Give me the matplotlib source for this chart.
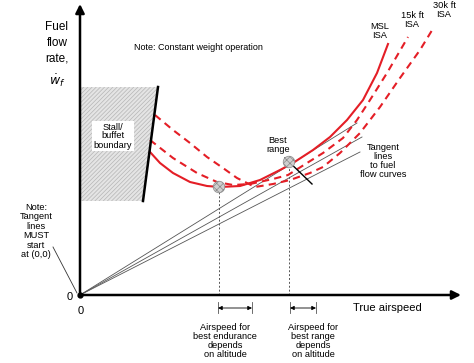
import matplotlib
matplotlib.use("Agg")
import matplotlib.pyplot as plt

# fuel flow curves (airspeed, fuel flow), schematic units
msl_x = [70, 80, 93, 110, 127, 140, 160, 180, 200, 213, 233, 250, 267, 283, 297, 308]
msl_y = [143, 132, 122, 113, 109, 108, 109, 115, 125, 132, 145, 158, 175, 195, 222, 251]

ft15_x = [70, 93, 117, 137, 153, 170, 193, 208, 227, 243, 263, 277, 290, 307, 328]
ft15_y = [155, 137, 122, 113, 110, 111, 116, 120, 132, 142, 157, 175, 195, 222, 258]

ft30_x = [75, 93, 110, 127, 143, 157, 175, 193, 210, 230, 243, 260, 280, 300, 320, 340, 354]
ft30_y = [180, 165, 152, 138, 127, 117, 108, 111, 115, 122, 128, 142, 162, 188, 217, 245, 268]

# tangent lines from origin: end points
tangent_end_x = [277, 282, 280]
tangent_end_y = [172, 158, 143]

v_endurance = 139
v_range = 209
best_points_x = [139, 209]
best_points_y = [108, 133]

stall_line_x = [78, 63]
stall_line_y = [208, 94]

RED = "#e41e26"
plt.rcParams["font.family"] = ["Liberation Sans", "DejaVu Sans"]
plt.rcParams["hatch.linewidth"] = 0.5

fig = plt.figure(figsize=(4.74, 3.63), dpi=100)
ax = fig.add_axes([0, 0, 1, 1])
ax.set_xlim(-80, 394)
ax.set_ylim(-68, 295)
ax.axis("off")

# stall/buffet hatched zone
ax.fill([1, stall_line_x[0], stall_line_x[1], 1], [208, 208, 94, 94],
        facecolor="#e4e4e4", edgecolor="#b5b5b5", hatch="////////", lw=0, zorder=1)
ax.plot(stall_line_x, stall_line_y, color="k", lw=1.8, zorder=4)
ax.text(33, 159, "Stall/\nbuffet\nboundary", ha="center", va="center", fontsize=6.7,
        linespacing=1.0, bbox=dict(boxstyle="square,pad=0.15", fc="white", ec="none"), zorder=5)

# tangent lines
for ex, ey in zip(tangent_end_x, tangent_end_y):
    ax.plot([0, ex], [0, ey], color="#555555", lw=0.6, zorder=2)

# fuel flow curves
ax.plot(msl_x, msl_y, color=RED, lw=1.5, zorder=3)
ax.plot(ft15_x, ft15_y, color=RED, lw=1.5, dashes=(3.5, 2.5), zorder=3)
ax.plot(ft30_x, ft30_y, color=RED, lw=1.5, dashes=(3.5, 2.5), zorder=3)

# best range line
ax.plot([205, 232], [137, 111], color="k", lw=1.0, zorder=4)

# dotted verticals
for v, top in [(v_endurance, best_points_y[0]), (v_range, best_points_y[1])]:
    ax.plot([v, v], [0, top], color="#555555", lw=0.7, dashes=(2, 2), zorder=2)

ax.scatter(best_points_x, best_points_y, s=70, facecolor="#cfcfcf", edgecolor="#8a8a8a",
           hatch="xxxxx", lw=0.5, zorder=5)

# axes with arrows
arrow = dict(arrowstyle="-|>", lw=1.8, color="k", mutation_scale=13, shrinkA=0, shrinkB=0)
ax.annotate("", xy=(0, 291), xytext=(0, 0), arrowprops=arrow, zorder=6)
ax.annotate("", xy=(381, 0), xytext=(0, 0), arrowprops=arrow, zorder=6)
ax.plot([0], [0], "o", color="k", ms=3.5, zorder=7)

# range brackets below the axis
for a, b in [(138, 172), (210, 236)]:
    ax.annotate("", xy=(b, -13), xytext=(a, -13),
                arrowprops=dict(arrowstyle="<|-|>", lw=0.6, color="k",
                                mutation_scale=6, shrinkA=0, shrinkB=0))
    for v in (a, b):
        ax.plot([v, v], [-7, -18], color="#555555", lw=0.6)

fs = 6.7
ax.text(145, -46, "Airspeed for\nbest endurance\ndepends\non altitude", ha="center",
        va="center", fontsize=fs, linespacing=1.0)
ax.text(233, -46, "Airspeed for\nbest range\ndepends\non altitude", ha="center",
        va="center", fontsize=fs, linespacing=1.0)
ax.text(273, -13, "True airspeed", ha="left", va="center", fontsize=8)
ax.text(-10, -2, "0", ha="center", va="center", fontsize=8)
ax.text(1, -16, "0", ha="center", va="center", fontsize=8)

ax.text(-44, 64, "Note:\nTangent\nlines\nMUST\nstart\nat (0,0)", ha="center", va="center",
        fontsize=fs, linespacing=1.05)
ax.plot([-27, -3], [48, 2], color="#333333", lw=0.6)

ax.text(-23, 252, "Fuel\nflow\nrate,", ha="center", va="center", fontsize=8.5, linespacing=1.45)
ax.text(-23, 214, r"$\dot{w}_f$", ha="center", va="center", fontsize=9)

ax.text(54, 247, "Note: Constant weight operation", ha="left", va="center", fontsize=6.5)
ax.text(300, 264, "MSL\nISA", ha="center", va="center", fontsize=fs, linespacing=1.0)
ax.text(332, 275, "15k ft\nISA", ha="center", va="center", fontsize=fs, linespacing=1.0)
ax.text(364, 285, "30k ft\nISA", ha="center", va="center", fontsize=fs, linespacing=1.0)
ax.text(198, 150, "Best\nrange", ha="center", va="center", fontsize=fs, linespacing=1.0)
ax.text(303, 134, "Tangent\nlines\nto fuel\nflow curves", ha="center", va="center",
        fontsize=fs, linespacing=1.0)

fig.savefig("out.png", dpi=100)
